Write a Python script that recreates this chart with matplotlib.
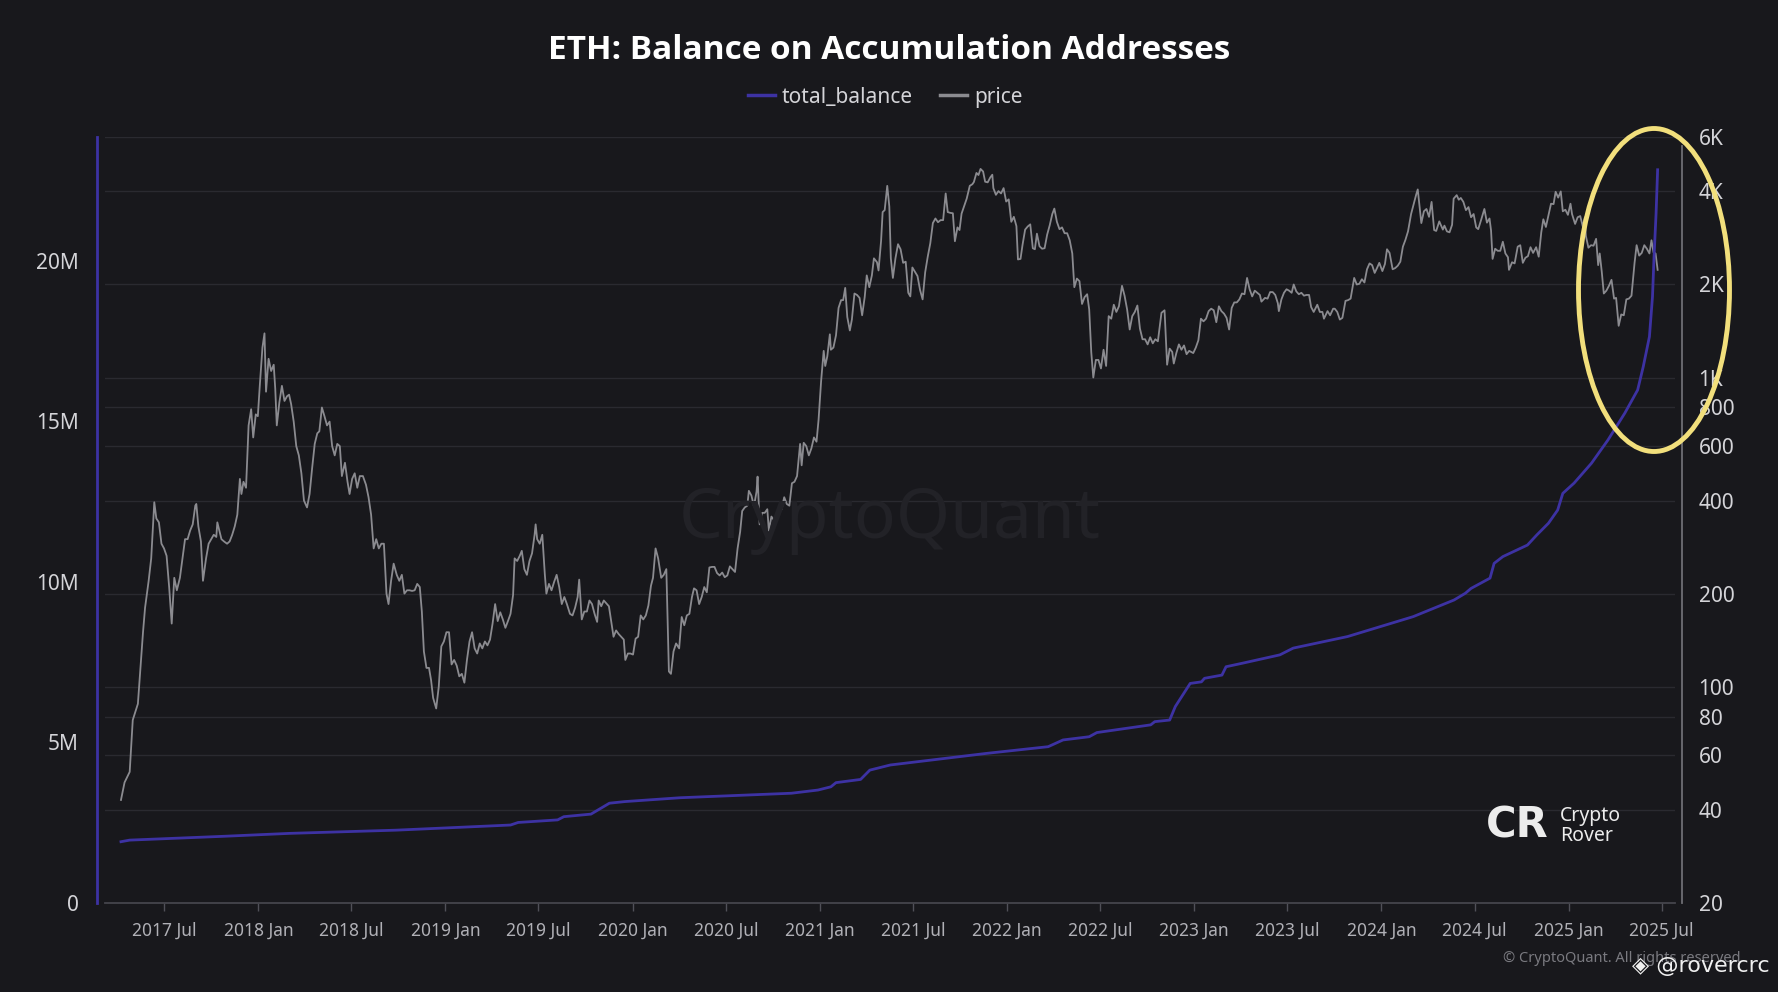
import numpy as np
import pandas as pd
import matplotlib
matplotlib.use("Agg")
import matplotlib.pyplot as plt
from matplotlib.patches import Ellipse
from matplotlib.lines import Line2D
from matplotlib.ticker import FixedLocator, FuncFormatter, NullLocator

# total_balance (ETH, millions)
balance_dates = [
    "2017-04-08", "2017-04-25", "2017-10-27", "2018-03-03", "2018-09-27", "2019-05-08",
    "2019-05-23", "2019-08-08", "2019-08-20", "2019-10-12", "2019-11-17", "2019-12-17",
    "2020-04-03", "2020-11-06", "2020-12-28", "2021-01-22", "2021-02-01", "2021-03-21",
    "2021-04-08", "2021-05-18", "2021-11-21", "2022-03-22", "2022-04-20", "2022-06-10",
    "2022-06-25", "2022-10-08", "2022-10-16", "2022-11-14", "2022-11-25", "2022-12-24",
    "2023-01-15", "2023-01-21", "2023-02-24", "2023-03-04", "2023-04-05", "2023-06-17",
    "2023-07-13", "2023-10-27", "2024-03-03", "2024-05-22", "2024-06-13", "2024-06-24",
    "2024-07-31", "2024-08-08", "2024-08-25", "2024-10-12", "2024-10-30", "2024-11-22",
    "2024-12-10", "2024-12-20", "2025-01-11", "2025-02-14", "2025-03-18", "2025-04-20",
    "2025-05-15", "2025-05-26", "2025-06-07", "2025-06-13", "2025-06-16", "2025-06-20",
    "2025-06-23",
]
balance_m = [
    1.90, 1.95, 2.07, 2.16, 2.26, 2.42,
    2.50, 2.58, 2.68, 2.76, 3.10, 3.15,
    3.27, 3.41, 3.51, 3.61, 3.74, 3.84,
    4.13, 4.29, 4.65, 4.86, 5.07, 5.17,
    5.30, 5.54, 5.64, 5.69, 6.11, 6.83,
    6.88, 6.99, 7.09, 7.35, 7.46, 7.72,
    7.93, 8.29, 8.91, 9.43, 9.64, 9.79,
    10.11, 10.57, 10.78, 11.14, 11.45, 11.82,
    12.23, 12.75, 13.07, 13.69, 14.41, 15.25,
    15.97, 16.70, 17.63, 18.88, 20.12, 21.48,
    22.83,
]

# ETH price (USD), one list per year
price_2017 = [
    ("04-08", 43), ("04-15", 49), ("04-25", 53), ("05-01", 78), ("05-11", 88), ("05-21", 150),
    ("05-25", 180), ("06-01", 220), ("06-06", 260), ("06-12", 395), ("06-16", 350), ("06-21", 340),
    ("06-26", 290), ("07-01", 280), ("07-06", 265), ("07-11", 210), ("07-16", 160), ("07-21", 225),
    ("07-26", 205), ("08-01", 225), ("08-06", 260), ("08-11", 300), ("08-16", 300), ("08-21", 320),
    ("08-26", 335), ("08-31", 385), ("09-02", 390), ("09-06", 330), ("09-11", 295), ("09-15", 220),
    ("09-21", 260), ("09-26", 290), ("10-01", 300), ("10-06", 310), ("10-11", 305), ("10-13", 340),
    ("10-21", 300), ("10-26", 295), ("11-01", 290), ("11-06", 295), ("11-11", 310), ("11-16", 330),
    ("11-21", 360), ("11-26", 470), ("11-29", 420), ("12-03", 460), ("12-08", 440), ("12-13", 700),
    ("12-18", 790), ("12-22", 640), ("12-27", 760), ("12-31", 750),
]
price_2018 = [
    ("01-04", 950), ("01-09", 1250), ("01-13", 1390), ("01-16", 900), ("01-21", 1150), ("01-26", 1050),
    ("01-31", 1100), ("02-03", 920), ("02-06", 700), ("02-11", 830), ("02-16", 940), ("02-21", 840),
    ("02-26", 870), ("03-02", 880), ("03-06", 820), ("03-11", 720), ("03-16", 600), ("03-21", 560),
    ("03-26", 490), ("03-31", 400), ("04-06", 380), ("04-11", 420), ("04-16", 510), ("04-21", 610),
    ("04-26", 660), ("04-30", 670), ("05-05", 800), ("05-10", 750), ("05-15", 700), ("05-20", 720),
    ("05-25", 600), ("05-30", 560), ("06-04", 610), ("06-09", 600), ("06-13", 480), ("06-19", 530),
    ("06-24", 460), ("06-28", 420), ("07-03", 470), ("07-08", 490), ("07-13", 440), ("07-18", 480),
    ("07-24", 480), ("07-30", 450), ("08-04", 410), ("08-09", 360), ("08-14", 280), ("08-19", 300),
    ("08-24", 280), ("08-29", 290), ("09-03", 290), ("09-08", 200), ("09-12", 185), ("09-17", 220),
    ("09-22", 250), ("09-28", 230), ("10-03", 220), ("10-08", 230), ("10-13", 200), ("10-18", 205),
    ("10-23", 205), ("10-28", 204), ("11-02", 205), ("11-07", 215), ("11-12", 210), ("11-16", 175),
    ("11-20", 130), ("11-25", 115), ("11-30", 115), ("12-04", 105), ("12-08", 92), ("12-14", 85),
    ("12-19", 100), ("12-24", 135), ("12-29", 140),
]
price_2019 = [
    ("01-03", 150), ("01-08", 150), ("01-13", 118), ("01-18", 122), ("01-23", 117), ("01-28", 108),
    ("02-02", 110), ("02-07", 103), ("02-12", 122), ("02-17", 140), ("02-22", 150), ("02-27", 133),
    ("03-04", 128), ("03-09", 138), ("03-14", 133), ("03-19", 140), ("03-24", 136), ("03-29", 142),
    ("04-03", 160), ("04-08", 185), ("04-13", 163), ("04-18", 174), ("04-23", 165), ("04-28", 155),
    ("05-03", 163), ("05-08", 172), ("05-13", 198), ("05-16", 260), ("05-21", 255), ("05-26", 265),
    ("05-30", 275), ("06-04", 240), ("06-09", 230), ("06-14", 255), ("06-19", 270), ("06-24", 310),
    ("06-26", 335), ("06-29", 300), ("07-04", 290), ("07-09", 310), ("07-14", 230), ("07-17", 200),
    ("07-22", 215), ("07-27", 205), ("08-01", 218), ("08-06", 230), ("08-11", 210), ("08-16", 185),
    ("08-21", 195), ("08-26", 185), ("09-01", 172), ("09-06", 170), ("09-11", 180), ("09-16", 195),
    ("09-19", 222), ("09-24", 165), ("09-29", 175), ("10-04", 175), ("10-09", 190), ("10-14", 185),
    ("10-19", 172), ("10-24", 162), ("10-27", 190), ("11-01", 182), ("11-06", 190), ("11-11", 186),
    ("11-16", 182), ("11-21", 160), ("11-25", 145), ("11-30", 152), ("12-05", 148), ("12-10", 145),
    ("12-15", 142), ("12-18", 122), ("12-23", 128), ("12-28", 128),
]
price_2020 = [
    ("01-02", 127), ("01-07", 143), ("01-12", 145), ("01-17", 170), ("01-22", 165), ("01-27", 170),
    ("02-01", 183), ("02-06", 212), ("02-10", 225), ("02-15", 280), ("02-20", 260), ("02-26", 225),
    ("03-02", 230), ("03-07", 240), ("03-12", 112), ("03-16", 110), ("03-21", 130), ("03-26", 138),
    ("04-01", 133), ("04-06", 168), ("04-11", 158), ("04-16", 170), ("04-21", 172), ("04-26", 195),
    ("04-30", 208), ("05-05", 205), ("05-10", 185), ("05-15", 195), ("05-20", 210), ("05-25", 202),
    ("05-30", 243), ("06-04", 244), ("06-09", 244), ("06-14", 233), ("06-19", 229), ("06-24", 234),
    ("06-29", 226), ("07-04", 229), ("07-09", 245), ("07-14", 240), ("07-19", 235), ("07-24", 280),
    ("07-29", 317), ("08-02", 370), ("08-07", 380), ("08-12", 385), ("08-15", 430), ("08-20", 415),
    ("08-25", 383), ("08-30", 428), ("09-01", 478), ("09-05", 335), ("09-10", 365), ("09-15", 365),
    ("09-20", 375), ("09-23", 320), ("09-28", 355), ("10-03", 345), ("10-08", 350), ("10-13", 380),
    ("10-18", 375), ("10-23", 410), ("10-28", 390), ("11-02", 385), ("11-07", 455), ("11-12", 460),
    ("11-17", 480), ("11-23", 610), ("11-26", 520), ("11-30", 615), ("12-05", 600), ("12-10", 560),
    ("12-15", 590), ("12-20", 640), ("12-25", 620), ("12-29", 730),
]
price_2021 = [
    ("01-03", 975), ("01-08", 1220), ("01-11", 1090), ("01-15", 1170), ("01-20", 1380), ("01-22", 1230),
    ("01-27", 1250), ("02-01", 1370), ("02-06", 1680), ("02-11", 1780), ("02-15", 1780), ("02-19", 1950),
    ("02-23", 1570), ("02-28", 1420), ("03-04", 1540), ("03-09", 1870), ("03-14", 1850), ("03-19", 1810),
    ("03-24", 1590), ("03-29", 1820), ("04-02", 2140), ("04-07", 1960), ("04-12", 2140), ("04-16", 2430),
    ("04-22", 2360), ("04-25", 2220), ("04-30", 2770), ("05-03", 3430), ("05-07", 3480), ("05-12", 4170),
    ("05-16", 3580), ("05-19", 2430), ("05-23", 2100), ("05-28", 2430), ("06-02", 2700), ("06-07", 2600),
    ("06-12", 2350), ("06-17", 2370), ("06-22", 1880), ("06-26", 1830), ("06-30", 2270), ("07-05", 2200),
    ("07-10", 2130), ("07-15", 1920), ("07-20", 1790), ("07-25", 2190), ("07-30", 2460), ("08-04", 2720),
    ("08-09", 3160), ("08-14", 3270), ("08-19", 3180), ("08-24", 3230), ("08-29", 3230), ("09-03", 3940),
    ("09-07", 3430), ("09-12", 3410), ("09-17", 3400), ("09-21", 2760), ("09-26", 3060), ("09-30", 3000),
    ("10-04", 3390), ("10-09", 3580), ("10-14", 3790), ("10-20", 4170), ("10-25", 4220), ("10-28", 4290),
    ("11-02", 4590), ("11-06", 4520), ("11-10", 4730), ("11-15", 4640), ("11-19", 4300), ("11-24", 4280),
    ("11-29", 4440), ("12-03", 4530), ("12-05", 4100), ("12-10", 3900), ("12-15", 4010), ("12-20", 3940),
    ("12-25", 4100), ("12-30", 3710),
]
price_2022 = [
    ("01-04", 3770), ("01-09", 3190), ("01-14", 3310), ("01-19", 3090), ("01-22", 2410), ("01-27", 2420),
    ("01-31", 2690), ("02-05", 3010), ("02-10", 3080), ("02-15", 3130), ("02-20", 2620), ("02-24", 2600),
    ("02-28", 2920), ("03-05", 2660), ("03-10", 2610), ("03-15", 2620), ("03-20", 2900), ("03-25", 3110),
    ("03-30", 3380), ("04-03", 3520), ("04-08", 3190), ("04-13", 3020), ("04-18", 3060), ("04-23", 2930),
    ("04-28", 2930), ("05-03", 2780), ("05-08", 2520), ("05-12", 1960), ("05-17", 2090), ("05-22", 2050),
    ("05-27", 1730), ("06-01", 1820), ("06-06", 1860), ("06-10", 1660), ("06-14", 1210), ("06-18", 1000),
    ("06-23", 1140), ("06-28", 1140), ("07-03", 1070), ("07-08", 1230), ("07-13", 1090), ("07-18", 1580),
    ("07-23", 1550), ("07-28", 1720), ("08-02", 1630), ("08-07", 1700), ("08-13", 1980), ("08-18", 1840),
    ("08-23", 1660), ("08-28", 1430), ("09-02", 1580), ("09-07", 1630), ("09-12", 1710), ("09-17", 1440),
    ("09-22", 1330), ("09-27", 1330), ("10-02", 1280), ("10-07", 1350), ("10-12", 1290), ("10-17", 1330),
    ("10-22", 1310), ("10-29", 1620), ("11-04", 1650), ("11-09", 1100), ("11-14", 1240), ("11-19", 1210),
    ("11-22", 1110), ("11-27", 1200), ("12-02", 1280), ("12-07", 1230), ("12-12", 1270), ("12-17", 1190),
    ("12-22", 1220), ("12-30", 1200),
]
price_2023 = [
    ("01-04", 1250), ("01-09", 1320), ("01-14", 1550), ("01-19", 1520), ("01-24", 1550), ("01-29", 1640),
    ("02-03", 1670), ("02-08", 1650), ("02-13", 1510), ("02-18", 1700), ("02-23", 1640), ("02-28", 1610),
    ("03-05", 1560), ("03-10", 1430), ("03-15", 1680), ("03-20", 1750), ("03-25", 1750), ("03-30", 1790),
    ("04-04", 1870), ("04-09", 1860), ("04-14", 2100), ("04-19", 1930), ("04-24", 1830), ("04-29", 1910),
    ("05-04", 1880), ("05-09", 1850), ("05-12", 1760), ("05-19", 1810), ("05-24", 1800), ("05-29", 1890),
    ("06-03", 1890), ("06-08", 1850), ("06-13", 1740), ("06-15", 1640), ("06-20", 1790), ("06-25", 1880),
    ("06-30", 1930), ("07-05", 1910), ("07-10", 1880), ("07-14", 2000), ("07-19", 1900), ("07-24", 1860),
    ("07-29", 1880), ("08-03", 1840), ("08-08", 1850), ("08-13", 1850), ("08-17", 1690), ("08-22", 1630),
    ("08-29", 1720), ("09-03", 1630), ("09-08", 1630), ("09-11", 1550), ("09-18", 1640), ("09-23", 1590),
    ("09-29", 1670), ("10-02", 1670), ("10-07", 1630), ("10-12", 1540), ("10-17", 1560), ("10-23", 1770),
    ("10-28", 1780), ("11-02", 1800), ("11-09", 2100), ("11-14", 2000), ("11-19", 2010), ("11-24", 2080),
    ("11-29", 2030), ("12-04", 2240), ("12-09", 2340), ("12-14", 2310), ("12-19", 2180), ("12-24", 2270),
    ("12-28", 2350),
]
price_2024 = [
    ("01-03", 2210), ("01-08", 2330), ("01-12", 2600), ("01-17", 2530), ("01-23", 2240), ("01-28", 2260),
    ("02-02", 2300), ("02-07", 2370), ("02-12", 2650), ("02-17", 2790), ("02-22", 2970), ("02-28", 3380),
    ("03-04", 3640), ("03-09", 3910), ("03-12", 4060), ("03-19", 3160), ("03-24", 3450), ("03-29", 3510),
    ("04-03", 3310), ("04-08", 3700), ("04-13", 3000), ("04-17", 2980), ("04-23", 3200), ("04-30", 3010),
    ("05-03", 3100), ("05-08", 2970), ("05-13", 2950), ("05-18", 3120), ("05-21", 3790), ("05-27", 3890),
    ("05-31", 3760), ("06-04", 3810), ("06-09", 3700), ("06-14", 3480), ("06-19", 3560), ("06-24", 3300),
    ("06-29", 3380), ("07-04", 3060), ("07-08", 3020), ("07-14", 3250), ("07-20", 3510), ("07-25", 3170),
    ("07-30", 3270), ("08-02", 2990), ("08-05", 2420), ("08-10", 2610), ("08-15", 2570), ("08-20", 2570),
    ("08-25", 2750), ("08-30", 2520), ("09-04", 2450), ("09-06", 2230), ("09-12", 2360), ("09-17", 2340),
    ("09-23", 2650), ("09-28", 2680), ("10-03", 2350), ("10-08", 2440), ("10-13", 2470), ("10-18", 2640),
    ("10-23", 2530), ("10-29", 2640), ("11-03", 2460), ("11-08", 2950), ("11-12", 3250), ("11-17", 3070),
    ("11-22", 3350), ("11-27", 3650), ("12-02", 3640), ("12-06", 3990), ("12-11", 3820), ("12-16", 4000),
    ("12-20", 3450), ("12-25", 3490), ("12-30", 3360),
]
price_2025 = [
    ("01-04", 3650), ("01-07", 3380), ("01-13", 3140), ("01-18", 3300), ("01-23", 3330), ("01-28", 3080),
    ("02-01", 3300), ("02-03", 2870), ("02-08", 2630), ("02-13", 2680), ("02-18", 2670), ("02-23", 2810),
    ("02-27", 2310), ("03-02", 2520), ("03-06", 2200), ("03-10", 1870), ("03-15", 1910), ("03-20", 1980),
    ("03-25", 2070), ("03-30", 1800), ("04-03", 1810), ("04-08", 1470), ("04-13", 1600), ("04-18", 1590),
    ("04-23", 1790), ("04-28", 1800), ("05-03", 1840), ("05-09", 2350), ("05-13", 2680), ("05-18", 2480),
    ("05-23", 2530), ("05-28", 2680), ("06-02", 2610), ("06-07", 2520), ("06-11", 2780), ("06-15", 2540),
    ("06-19", 2520), ("06-23", 2230),
]

left_ticks = [0, 5e6, 10e6, 15e6, 20e6]
right_ticks = [20, 40, 60, 80, 100, 200, 400, 600, 800, 1000, 2000, 4000, 6000]
x_tick_dates = ["2017-07-01", "2018-01-01", "2018-07-01", "2019-01-01", "2019-07-01",
                "2020-01-01", "2020-07-01", "2021-01-01", "2021-07-01", "2022-01-01",
                "2022-07-01", "2023-01-01", "2023-07-01", "2024-01-01", "2024-07-01",
                "2025-01-01", "2025-07-01"]

BG = "#18181c"
PURPLE = "#3d32a3"
GRAY = "#8b8b90"
TXT = "#d4d4d8"

plt.rcParams["font.family"] = ["Noto Sans", "DejaVu Sans"]

price_rows = []
for year, rows in [(2017, price_2017), (2018, price_2018), (2019, price_2019), (2020, price_2020),
                   (2021, price_2021), (2022, price_2022), (2023, price_2023), (2024, price_2024),
                   (2025, price_2025)]:
    for md, v in rows:
        price_rows.append((pd.Timestamp(f"{year}-{md}"), v))
price = pd.DataFrame(price_rows, columns=["date", "price"])
bal = pd.DataFrame({"date": pd.to_datetime(balance_dates), "total_balance": np.array(balance_m) * 1e6})

fig = plt.figure(figsize=(17.78, 9.92), dpi=100, facecolor=BG)
ax = fig.add_axes([0.0591, 0.0900, 0.8830, 0.7719])
ax.set_facecolor(BG)
ax2 = ax.twinx()

ax2.plot(price["date"], price["price"], color=GRAY, lw=1.3, zorder=2)
ax.plot(bal["date"], bal["total_balance"], color=PURPLE, lw=2.0, zorder=3)
ax.set_zorder(ax2.get_zorder() + 1)
ax.patch.set_visible(False)
ax2.patch.set_visible(True)
ax2.patch.set_facecolor(BG)

ax.set_xlim(pd.Timestamp("2017-03-08"), pd.Timestamp("2025-07-27"))
ax.set_ylim(0, 23.85e6)
ax2.set_yscale("log")
ax2.set_ylim(20, 6000)

ax.yaxis.set_major_locator(FixedLocator(left_ticks))
ax.yaxis.set_major_formatter(FuncFormatter(lambda v, p: "0" if v == 0 else f"{v/1e6:.0f}M"))
ax2.yaxis.set_major_locator(FixedLocator(right_ticks))
ax2.yaxis.set_minor_locator(NullLocator())
ax2.yaxis.set_major_formatter(FuncFormatter(lambda v, p: f"{v/1000:.0f}K" if v >= 1000 else f"{v:.0f}"))
ax2.grid(axis="y", color="#2a2a30", lw=1)

xt = pd.to_datetime(x_tick_dates)
ax.set_xticks(xt)
ax.set_xticklabels([d.strftime("%Y %b") for d in xt])

ax.tick_params(axis="y", length=0, pad=13, labelsize=15, labelcolor=TXT)
ax2.tick_params(axis="y", length=0, pad=12, labelsize=15, labelcolor=TXT)
ax.tick_params(axis="x", length=6, width=1, color="#505058", pad=8, labelsize=12.5, labelcolor="#b0b0b6")

for s in ["top"]:
    ax.spines[s].set_visible(False)
    ax2.spines[s].set_visible(False)
ax2.spines["left"].set_visible(False)
ax2.spines["bottom"].set_visible(False)
ax.spines["right"].set_visible(False)
ax.spines["left"].set_color(PURPLE)
ax.spines["left"].set_linewidth(2)
ax.spines["left"].set_position(("outward", 5.8))
ax2.spines["right"].set_color("#6e6e74")
ax2.spines["right"].set_linewidth(1.3)
ax2.spines["right"].set_position(("outward", 5))
ax2.spines["right"].set_bounds(20, 5600)
ax.spines["bottom"].set_color("#45454c")
ax.spines["bottom"].set_linewidth(1.3)

# watermark
ax.text(0.5, 0.5, "CryptoQuant", transform=ax.transAxes, ha="center", va="center",
        fontsize=50, color="#222227", zorder=0)

# title and legend
fig.text(0.5, 0.949, "ETH: Balance on Accumulation Addresses", ha="center", va="center",
         fontsize=24, fontweight="bold", color="white", family=["Open Sans", "DejaVu Sans"])
handles = [Line2D([], [], color=PURPLE, lw=2.5), Line2D([], [], color=GRAY, lw=2.5)]
leg = fig.legend(handles, ["total_balance", "price"], loc="center", bbox_to_anchor=(0.498, 0.902),
                 ncol=2, frameon=False, fontsize=15, handlelength=1.3, handletextpad=0.35,
                 columnspacing=1.3)
for t in leg.get_texts():
    t.set_color(TXT)

# highlight ellipse
fig.patches.append(Ellipse((1654 / 1778, 1 - 290 / 992), 151 / 1778, 323 / 992,
                           transform=fig.transFigure, fill=False, ec="#f2df7c", lw=3.5, zorder=10))

# logos / credits
fig.text(1517 / 1778, 1 - 826 / 992, "CR", ha="center", va="center", fontsize=30,
         fontweight="heavy", color="#ececec", family="DejaVu Sans")
fig.text(1560 / 1778, 1 - 826 / 992, "Crypto\nRover", ha="left", va="center", fontsize=14,
         color="#ececec", linespacing=1.0)
fig.text(1503 / 1778, 1 - 958 / 992, "© CryptoQuant. All rights reserved", ha="left", va="center",
         fontsize=10.5, color="#7a7a80")
fig.text(1770 / 1778, 1 - 966 / 992, "◈ @rovercrc", ha="right", va="center", fontsize=16,
         color="#f0f0f0", family="DejaVu Sans")

fig.savefig("out.png", dpi=100, facecolor=BG)
